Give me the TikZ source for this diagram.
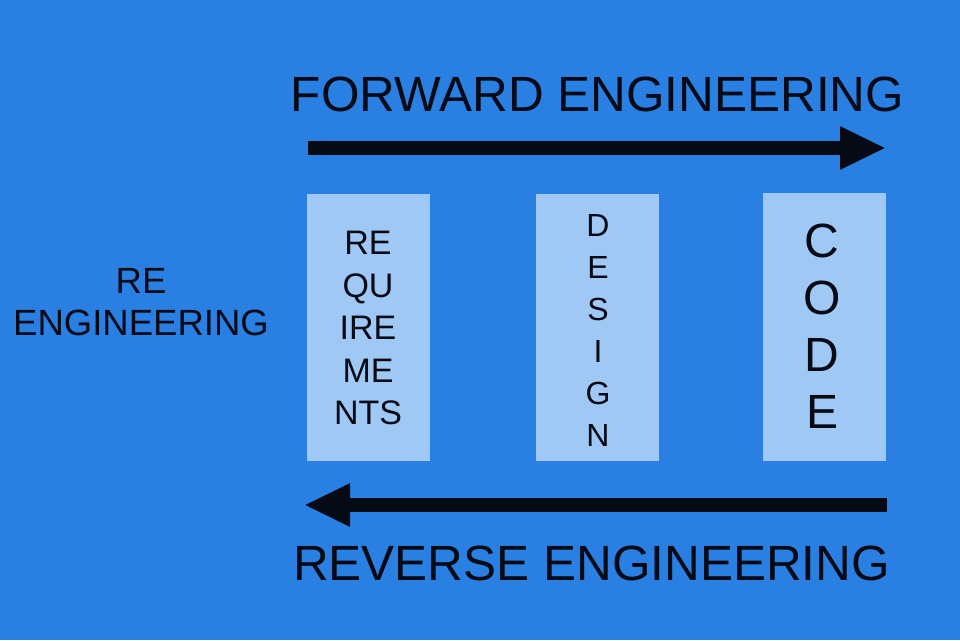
\documentclass[tikz,border=0pt]{standalone}
\usepackage{fontspec}
\setmainfont{Liberation Sans}
\usetikzlibrary{arrows.meta}
\definecolor{bgblue}{HTML}{2A80E2}
\definecolor{boxblue}{HTML}{A0C8F5}
\definecolor{ink}{HTML}{050A14}
\tikzset{
  phasebox/.style={fill=boxblue, draw=none},
  bigarrow/.style={ink, line width=14pt, -{Triangle[length=46pt,width=40pt]}},
  lbl/.style={text=ink, inner sep=0pt, align=center},
}
\begin{document}
\begin{tikzpicture}[x=1pt,y=-1pt]
\useasboundingbox (0,0) rectangle (960,640);
\fill[bgblue] (0,0) rectangle (960,640);
% boxes
\fill[phasebox] (307,194) rectangle (430,461);
\fill[phasebox] (536,194) rectangle (659,461);
\fill[phasebox] (763,193) rectangle (886,461);
% titles
\node[lbl, font=\fontsize{49.5}{50}\selectfont] (fwd) at (597.5,94.5) {FORWARD ENGINEERING};
\node[lbl, font=\fontsize{49.5}{50}\selectfont] (rev) at (591.5,563.5) {REVERSE ENGINEERING};
\node[lbl, font=\fontsize{36.5}{42}\selectfont] (reeng) at (141,302.5) {RE\\ENGINEERING};
% box texts
\node[lbl, font=\fontsize{34}{42.5}\selectfont] (req) at (368,328) {RE\\QU\\IRE\\ME\\NTS};
\node[lbl, font=\fontsize{32}{42}\selectfont] (des) at (598,330) {D\\E\\S\\I\\G\\N};
\node[lbl, font=\fontsize{48}{57}\selectfont] (code) at (822,326) {C\\O\\D\\E};
% arrows
\coordinate (f1) at (308,148);
\coordinate (f2) at (886,148);
\coordinate (r1) at (887,505);
\coordinate (r2) at (304,505);
\draw[bigarrow] (f1) -- (f2);
\draw[bigarrow] (r1) -- (r2);
\end{tikzpicture}
\end{document}
